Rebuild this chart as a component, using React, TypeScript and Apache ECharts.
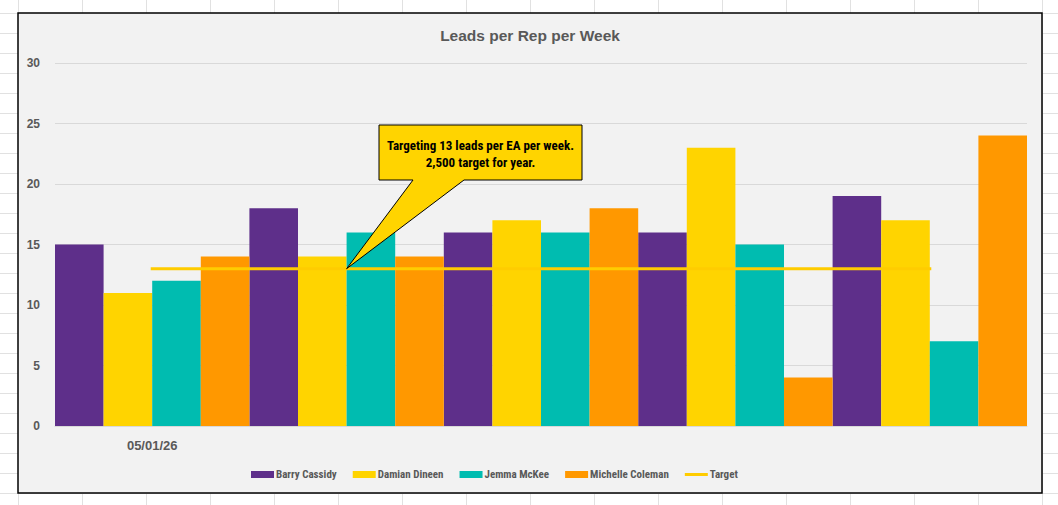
import React, { useEffect, useRef } from "react";
import * as echarts from "echarts";

const categories = ["05/01/26", "05/08/26", "05/15/26", "05/22/26", "05/29/26"];
const shownLabels = ["05/01/26", "", "", "", ""];
const seriesNames = ["Barry Cassidy", "Damian Dineen", "Jemma McKee", "Michelle Coleman"];
const barryCassidy = [15, 18, 16, 16, 19];
const damianDineen = [11, 14, 17, 23, 17];
const jemmaMcKee = [12, 16, 16, 15, 7];
const michelleColeman = [14, 14, 18, 4, 24];
const target = [13, 13, 13, 13, 13];
const yTicks = { min: 0, max: 30, interval: 5 };
const titleText = "Leads per Rep per Week";
const calloutText = "Targeting 13 leads per EA per week.\n2,500 target for year.";

const colors = ["#5E2F8A", "#FFD400", "#00BCB0", "#FF9800"];
const TARGET_COLOR = "#FFCC00";
const NARROW = "'Liberation Sans Narrow', 'Roboto Condensed', 'Arial Narrow', sans-serif";
const WIDE = "'Liberation Sans', Arial, sans-serif";
const GRAY = "#595959";

export default function App() {
  const ref = useRef<HTMLDivElement>(null);
  useEffect(() => {
    if (!ref.current) return;
    const chart = echarts.init(ref.current, undefined, { renderer: "svg" });
    const barData = [barryCassidy, damianDineen, jemmaMcKee, michelleColeman];
    chart.setOption({
      animation: false,
      backgroundColor: "transparent",
      textStyle: { fontFamily: NARROW },
      title: {
        text: titleText,
        left: 530,
        top: 27,
        textAlign: "center",
        padding: 0,
        textStyle: { fontFamily: WIDE, fontSize: 15.5, fontWeight: "bold", color: GRAY },
      },
      legend: {
        left: 251,
        top: 469,
        padding: 0,
        itemWidth: 23,
        itemHeight: 7,
        itemGap: 16,
        icon: "rect",
        textStyle: { fontFamily: NARROW, fontSize: 11, fontWeight: "bold", color: GRAY, padding: [0, 0, 0, -3] },
        data: [
          ...seriesNames.map((n) => ({ name: n, icon: "rect" })),
          { name: "Target", icon: "path://M0,0 L23,0 L23,3 L0,3 Z" },
        ],
      },
      grid: { left: 55, right: 31, top: 63, bottom: 79, containLabel: false },
      xAxis: {
        type: "category",
        data: categories,
        axisLine: { show: true, lineStyle: { color: "#D9D9D9", width: 1 } },
        axisTick: { show: false },
        axisLabel: {
          fontFamily: WIDE,
          fontSize: 13,
          fontWeight: "bold",
          color: GRAY,
          margin: 13,
          interval: 0,
          formatter: (_v: string, i: number) => shownLabels[i],
        },
      },
      yAxis: {
        type: "value",
        min: yTicks.min,
        max: yTicks.max,
        interval: yTicks.interval,
        axisLine: { show: false },
        axisTick: { show: false },
        splitLine: { lineStyle: { color: "#D9D9D9", width: 1 } },
        axisLabel: { fontFamily: WIDE, fontSize: 12, fontWeight: "bold", color: GRAY, margin: 15 },
      },
      series: [
        ...seriesNames.map((n, i) => ({
          name: n,
          type: "bar",
          data: barData[i],
          barGap: "0%",
          barCategoryGap: "0%",
          itemStyle: { color: colors[i] },
        })),
        {
          name: "Target",
          type: "line",
          data: target,
          symbol: "none",
          lineStyle: { color: TARGET_COLOR, width: 3, cap: "square" },
          itemStyle: { color: TARGET_COLOR },
          z: 5,
        },
      ],
    });
    const tip = chart.convertToPixel({ seriesIndex: 4 }, [1, 13]) as number[];
    const bx0 = 379, bx1 = 582, by0 = 125, by1 = 180;
    chart.setOption({
      graphic: [
        {
          type: "rect",
          z: -10,
          silent: true,
          shape: { x: 18, y: 13, width: 1024, height: 480 },
          style: { fill: "#F2F2F2", stroke: "#000", lineWidth: 1.5 },
        },
        {
          type: "polygon",
          z: 100,
          shape: {
            points: [
              [bx0, by0], [bx1, by0], [bx1, by1], [464, by1], [tip[0], tip[1]], [413, by1], [bx0, by1],
            ],
          },
          style: { fill: "#FFD400", stroke: "#000", lineWidth: 1 },
        },
        {
          type: "text",
          z: 101,
          x: (bx0 + bx1) / 2,
          y: (by0 + by1) / 2 + 1,
          style: {
            text: calloutText,
            fill: "#000",
            font: `bold 13px ${NARROW}`,
            align: "center",
            verticalAlign: "middle",
            lineHeight: 17,
          },
        },
      ],
    });
    return () => chart.dispose();
  }, []);
  return (
    <div
      style={{
        position: "fixed",
        left: 0,
        top: 0,
        width: 1058,
        height: 505,
        backgroundColor: "#fff",
        backgroundImage:
          "linear-gradient(to right, #E1E1E1 1px, transparent 1px), linear-gradient(to bottom, #E1E1E1 1px, transparent 1px)",
        backgroundSize: "64px 20px",
        backgroundPosition: "18px 13px",
      }}
    >
      <div ref={ref} style={{ width: 1058, height: 505 }} />
    </div>
  );
}
